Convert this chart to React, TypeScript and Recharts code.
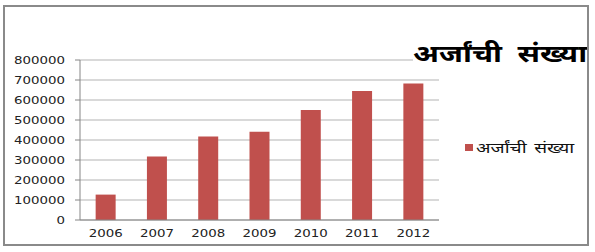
import React from "react"
import { BarChart, Bar, XAxis, YAxis, CartesianGrid, Legend } from "recharts"

const years = ["2006", "2007", "2008", "2009", "2010", "2011", "2012"]
const applications = [127000, 318000, 418000, 441000, 550000, 645000, 682000]
const yTicks = [0, 100000, 200000, 300000, 400000, 500000, 600000, 700000, 800000]
const boundaryTicks = [0, 1, 2, 3, 4, 5, 6, 7]

const seriesName = "अर्जांची संख्या"
const titleText = "अर्जांची संख्या"

const data = years.map((year, i) => ({ year, value: applications[i] }))

// the original picture is stretched sideways, so text gets scaled the same way
const STRETCH = 1.27
const tickFontFamily = "DejaVu Sans, Verdana, sans-serif"

const YTick = ({ x, y, payload }: any) => (
  <text
    transform={`translate(${x},${y}) scale(${STRETCH},1)`}
    textAnchor="end"
    dy="0.36em"
    fontFamily={tickFontFamily}
    fontSize={10.5}
    fill="#222"
  >
    {payload.value}
  </text>
)

const XTick = ({ x, y, payload }: any) => (
  <text
    transform={`translate(${x},${y}) scale(${STRETCH},1)`}
    textAnchor="middle"
    dy="0.71em"
    fontFamily={tickFontFamily}
    fontSize={10.5}
    fill="#222"
  >
    {payload.value}
  </text>
)

const LegendBox = ({ payload }: any) => (
  <div>
    {(payload || []).map((p: any) => (
      <div key={p.value} style={{ display: "flex", alignItems: "center", height: 16 }}>
        <span style={{ display: "inline-block", width: 8, height: 7, background: p.color, marginLeft: 7 }} />
        <span
          style={{
            display: "inline-block",
            marginLeft: 3,
            fontFamily: "Noto Sans, sans-serif",
            fontSize: 15,
            wordSpacing: 2,
            lineHeight: "16px",
            color: "#111",
            whiteSpace: "nowrap",
            transform: `scaleX(${STRETCH})`,
            transformOrigin: "left center",
          }}
        >
          {p.value}
        </span>
      </div>
    ))}
  </div>
)

export default function App() {
  return (
    <div style={{ position: "absolute", left: 0, top: 0, width: 595, height: 252, background: "#fff" }}>
      <BarChart
        width={595}
        height={252}
        data={data}
        margin={{ top: 60, right: 26, bottom: 0, left: 0 }}
        barCategoryGap="30.5%"
      >
        <CartesianGrid vertical={false} stroke="#b3b3b3" />
        <XAxis
          xAxisId="edges"
          type="number"
          domain={[0, 7]}
          ticks={boundaryTicks}
          tick={false}
          tickSize={4}
          axisLine={false}
          tickLine={{ stroke: "#868686" }}
          height={0}
        />
        <XAxis
          dataKey="year"
          height={32}
          tickSize={0}
          tickMargin={10}
          tickLine={false}
          axisLine={{ stroke: "#868686" }}
          tick={<XTick />}
        />
        <YAxis
          width={80}
          domain={[0, 800000]}
          ticks={yTicks}
          interval={0}
          tickSize={5}
          tickMargin={10}
          axisLine={{ stroke: "#868686" }}
          tickLine={{ stroke: "#868686" }}
          tick={<YTick />}
        />
        <Legend
          layout="vertical"
          align="right"
          verticalAlign="top"
          content={<LegendBox />}
          wrapperStyle={{ left: 458, top: 139, width: 130 }}
        />
        <Bar dataKey="value" name={seriesName} fill="#c0504d" isAnimationActive={false} />
      </BarChart>
      <div
        style={{
          position: "absolute",
          left: 413,
          top: 40,
          width: 172,
          height: 26,
          background: "#fff",
        }}
      >
        <div
          style={{
            fontFamily: "Noto Sans, sans-serif",
            fontWeight: "bold",
            fontSize: 24,
            wordSpacing: 6,
            lineHeight: "26px",
            color: "#000",
            whiteSpace: "nowrap",
            transform: `scaleX(${STRETCH})`,
            transformOrigin: "left center",
          }}
        >
          {titleText}
        </div>
      </div>
      <div
        style={{
          position: "absolute",
          left: 3,
          top: 5,
          width: 582,
          height: 237,
          border: "2px solid #8a8a8a",
          pointerEvents: "none",
        }}
      />
    </div>
  )
}
